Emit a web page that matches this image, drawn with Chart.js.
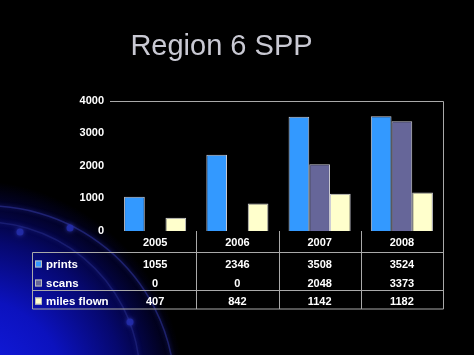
<!DOCTYPE html>
<html>
<head>
<meta charset="utf-8">
<script src="https://cdn.jsdelivr.net/npm/chart.js@4/dist/chart.umd.min.js"></script>
<style>
  html, body { margin: 0; padding: 0; background: #000; }
  #wrap { width: 474px; height: 355px; position: relative; }
</style>
</head>
<body>
<div id="wrap"><canvas id="c"></canvas></div>
<script>
const titleText = 'Region 6 SPP';
const categories = ['2005', '2006', '2007', '2008'];
const seriesNames = ['prints', 'scans', 'miles flown'];
const prints = [1055, 2346, 3508, 3524];
const scans = [0, 0, 2048, 3373];
const milesFlown = [407, 842, 1142, 1182];
const seriesColors = ['#3399ff', '#666699', '#ffffcc'];
const yTicks = [0, 1000, 2000, 3000, 4000];

const seriesData = [prints, scans, milesFlown];
const LINE = '#a9a9a9';

const bgPlugin = {
  id: 'bg',
  beforeDraw(chart) {
    const ctx = chart.ctx, w = chart.width, h = chart.height;
    ctx.save();
    ctx.fillStyle = '#000';
    ctx.fillRect(0, 0, w, h);
    const g = ctx.createRadialGradient(-30, 395, 0, -30, 395, 215);
    g.addColorStop(0, 'rgb(20,30,235)');
    g.addColorStop(0.45, 'rgb(12,18,190)');
    g.addColorStop(0.72, 'rgb(6,8,110)');
    g.addColorStop(0.9, 'rgb(2,2,40)');
    g.addColorStop(1, 'rgba(0,0,0,1)');
    ctx.fillStyle = g;
    ctx.fillRect(0, 0, w, h);
    // decorative arcs
    ctx.shadowColor = 'rgba(60,70,220,0.8)';
    ctx.shadowBlur = 4;
    ctx.strokeStyle = 'rgba(45,50,150,0.6)';
    ctx.lineWidth = 1.5;
    ctx.beginPath();
    ctx.arc(-12, 393, 187, Math.PI * 1.47, Math.PI * 1.98);
    ctx.stroke();
    ctx.strokeStyle = 'rgba(40,45,140,0.5)';
    ctx.beginPath();
    ctx.arc(-16, 378, 156, Math.PI * 1.47, Math.PI * 1.98);
    ctx.stroke();
    ctx.fillStyle = 'rgba(35,45,170,0.85)';
    [[20, 232], [70, 228], [130, 322]].forEach(p => {
      ctx.beginPath();
      ctx.arc(p[0], p[1], 3.5, 0, Math.PI * 2);
      ctx.fill();
    });
    ctx.restore();
  }
};

const tablePlugin = {
  id: 'dataTable',
  afterDraw(chart) {
    const ctx = chart.ctx, a = chart.chartArea, xs = chart.scales.x;
    const left = 32, right = a.right;
    const top = 252.5, mid = 290.5, bottom = 309;
    const rowY = [264.5, 283.5, 301.5];
    ctx.save();
    ctx.strokeStyle = LINE;
    ctx.lineWidth = 1;
    ctx.beginPath();
    ctx.moveTo(a.left - 4, Math.round(a.top) + 0.5);
    ctx.lineTo(Math.round(right) + 0.5, Math.round(a.top) + 0.5);
    ctx.moveTo(Math.round(right) + 0.5, Math.round(a.top) + 0.5);
    ctx.lineTo(Math.round(right) + 0.5, bottom);
    for (let i = 0; i < categories.length - 1; i++) {
      const xp = Math.round((xs.getPixelForValue(i) + xs.getPixelForValue(i + 1)) / 2) + 0.5;
      ctx.moveTo(xp, a.bottom);
      ctx.lineTo(xp, bottom);
    }
    ctx.moveTo(left + 0.5, top);
    ctx.lineTo(right, top);
    ctx.moveTo(left + 0.5, top);
    ctx.lineTo(left + 0.5, bottom);
    ctx.lineTo(right + 0.5, bottom);
    ctx.moveTo(left + 0.5, mid);
    ctx.lineTo(right, mid);
    ctx.stroke();

    ctx.textBaseline = 'middle';
    for (let s = 0; s < seriesNames.length; s++) {
      const y = rowY[s];
      ctx.fillStyle = seriesColors[s];
      ctx.fillRect(35, y - 4, 7, 7);
      ctx.strokeStyle = '#bbb';
      ctx.strokeRect(35.5, y - 3.5, 6, 6);
      ctx.fillStyle = '#fff';
      ctx.font = 'bold 11.5px "Liberation Sans", Arial, sans-serif';
      ctx.textAlign = 'left';
      ctx.fillText(seriesNames[s], 46, y);
      ctx.font = 'bold 11px "Liberation Sans", Arial, sans-serif';
      ctx.textAlign = 'center';
      seriesData[s].forEach((v, i) => {
        ctx.fillText(String(v), xs.getPixelForValue(i), y);
      });
    }
    ctx.restore();
  }
};

new Chart(document.getElementById('c'), {
  type: 'bar',
  data: {
    labels: categories,
    datasets: seriesNames.map((n, i) => ({
      label: n,
      data: seriesData[i],
      backgroundColor: seriesColors[i],
      borderColor: 'rgba(225,225,235,0.9)',
      borderWidth: ctx => (ctx.raw === 0 ? 0 : 1),
      categoryPercentage: 0.755,
      barPercentage: 1.0
    }))
  },
  options: {
    responsive: true,
    maintainAspectRatio: false,
    animation: false,
    devicePixelRatio: 1,
    layout: { padding: { left: 0, right: 31, top: 0, bottom: 0 } },
    plugins: {
      legend: { display: false },
      tooltip: { enabled: false },
      title: {
        display: true,
        text: titleText,
        color: '#c9c9d3',
        font: { family: '"Liberation Sans", Arial, sans-serif', size: 29, weight: 'normal', lineHeight: 1.2 },
        padding: { top: 30, bottom: 36 }
      }
    },
    scales: {
      x: {
        grid: { display: false, drawTicks: false },
        border: { display: false },
        ticks: {
          color: '#fff',
          padding: 5,
          font: { family: '"Liberation Sans", Arial, sans-serif', size: 11, weight: 'bold' }
        },
        afterFit(s) { s.height = 124; }
      },
      y: {
        min: 0,
        max: 4000,
        grid: { display: false, drawTicks: false },
        border: { display: false },
        afterBuildTicks(s) { s.ticks = yTicks.map(v => ({ value: v })); },
        ticks: {
          color: '#fff',
          padding: 10,
          callback: v => String(v),
          font: { family: '"Liberation Sans", Arial, sans-serif', size: 11, weight: 'bold' }
        },
        afterFit(s) { s.width = 114; }
      }
    }
  },
  plugins: [bgPlugin, tablePlugin]
});
</script>
</body>
</html>
